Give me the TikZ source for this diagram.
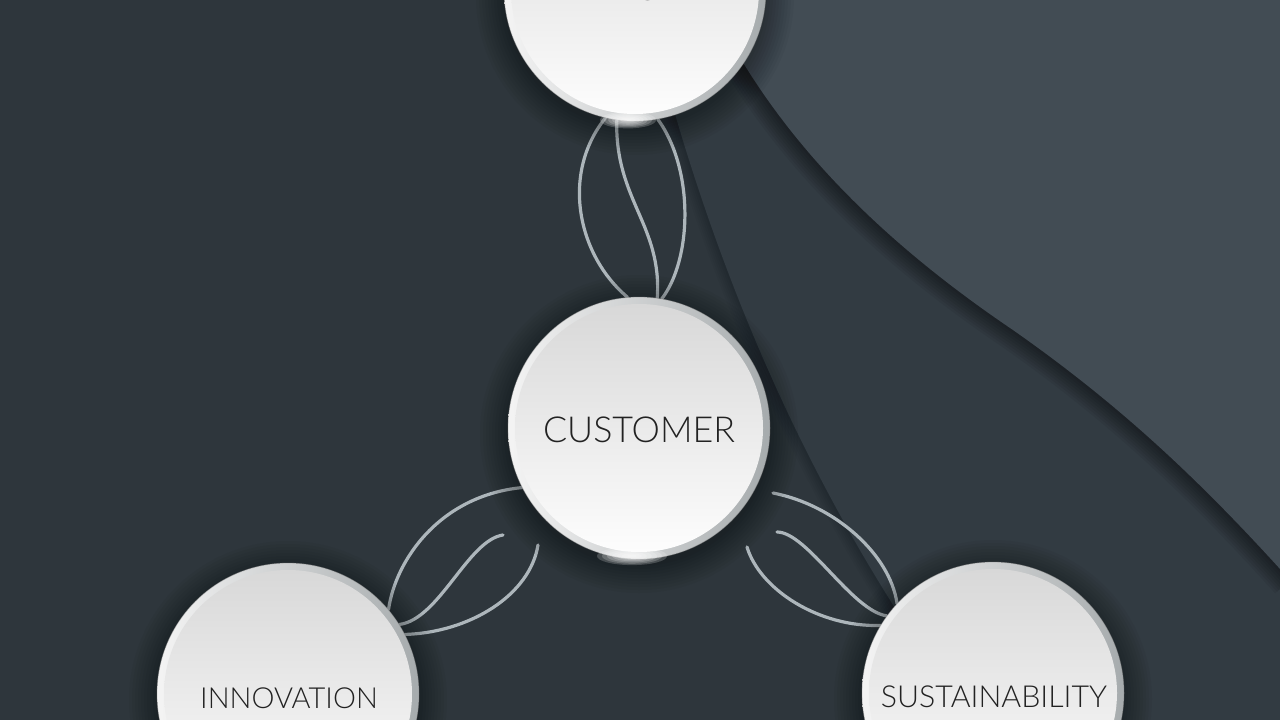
\documentclass[tikz,border=0pt]{standalone}
\usepackage{fontspec}
\newfontfamily\lbl{Lato}[UprightFont=* Light]
\definecolor{bgbase}{HTML}{2E363C}
\definecolor{bgmid}{HTML}{323B42}
\definecolor{bgtop}{HTML}{424C54}
\definecolor{wire}{HTML}{ADB6BB}
\definecolor{rimlight}{HTML}{F4F4F4}
\definecolor{rimdark}{HTML}{A6ABAD}
\definecolor{facetop}{HTML}{D8D8D8}
\definecolor{facebot}{HTML}{FDFDFD}
\definecolor{ink}{HTML}{222222}
\tikzset{
  hub/.style={circle, minimum size=262pt, inner sep=0pt},
  wirestyle/.style={draw=wire, line width=3.2pt, line cap=round},
  caption/.style={text=ink, font=\lbl\fontsize{#1}{#1}\selectfont, inner sep=0pt},
}
\newcommand\drawhub[1]{%
  \foreach \k in {1,...,10}{\fill[black, opacity=0.035] ([yshift=-6pt]#1.center) circle[radius=129pt+3pt*\k];}
  \shade[left color=rimlight, right color=rimdark] (#1.center) circle[radius=131pt];
  \draw[black!50, opacity=.4, line width=.8pt] (#1.center) circle[radius=131pt];
  \shade[top color=facetop, bottom color=facebot] (#1.center) circle[radius=124pt];
}
\newcommand\glowat[3]{%
  \foreach \k in {1,...,7}{\fill[white, opacity=.2] #1 ellipse[x radius=#2*\k, y radius=#3*\k];}
}
\def\mainedge{(700,-20) .. controls (765,130) and (880,240) .. (1013,330) .. controls (1120,405) and (1200,480) .. (1290,580)}
\def\midedge{(640,-20) .. controls (700,240) and (790,440) .. (890,600) -- (975,740)}
\begin{document}
\begin{tikzpicture}[x=1pt, y=-1pt]
\useasboundingbox (0,0) rectangle (1280,720);
\clip (0,0) rectangle (1280,720);
% background sheets
\fill[bgbase] (0,0) rectangle (1280,720);
\foreach \k in {1,...,6}{\draw[black, opacity=0.03, line width=4pt*\k] \midedge;}
\fill[bgmid] \midedge -- (1290,740) -- (1290,-20) -- cycle;
\foreach \k in {1,...,8}{\draw[black, opacity=0.06, line width=5pt*\k] \mainedge;}
\fill[bgtop] \mainedge -- (1290,-20) -- cycle;
% hubs (positions)
\node[hub] (emp) at (635,-10) {};
\node[hub] (cust) at (639,428) {};
\node[hub] (inno) at (288,694) {};
\node[hub] (sust) at (993,693) {};
% connectors top - customer
\draw[wirestyle] (emp.257) .. controls +(-45,56) and +(-50,-42) .. (cust.95);
\draw[wirestyle] (emp.262) .. controls +(-2,80) and +(5,-73) .. (cust.82);
\draw[wirestyle] (emp.280) .. controls +(37,51) and +(30,-39) .. (cust.80);
% connectors customer - innovation
\draw[wirestyle] (cust.207) .. controls +(-82,8) and +(7,-50) .. (inno.40);
\draw[wirestyle] ([shift={(-136,107)}]cust.center) .. controls +(-35,5) and +(40,-5) .. (inno.32);
\draw[wirestyle] ([shift={(-101,117)}]cust.center) .. controls +(-8,50) and +(65,-2) .. (inno.27);
% connectors customer - sustainability
\draw[wirestyle] ([shift={(134,65)}]cust.center) .. controls +(62,12) and +(-7,-49) .. (sust.137);
\draw[wirestyle] ([shift={(138,104)}]cust.center) .. controls +(30,0) and +(-35,-5) .. (sust.144);
\draw[wirestyle] ([shift={(108,119)}]cust.center) .. controls +(13,43) and +(-61,2) .. (sust.149);
% hub graphics
\drawhub{emp}
\drawhub{inno}
\drawhub{sust}
\drawhub{cust}
\glowat{(628,120)}{4pt}{1.2pt}
\glowat{(632,556)}{5pt}{1.3pt}
% captions
\node[caption=31, anchor=base] (emptext) at (635,0.6) {EMPLOYEE};
\node[caption=35.8] (custtext) at ([yshift=-2pt]cust.center) {CUSTOMER};
\node[caption=29] (innotext) at ([shift={(1,4)}]inno.center) {INNOVATION};
\node[caption=30.3] (susttext) at ([shift={(1,4)}]sust.center) {SUSTAINABILITY};
\end{tikzpicture}
\end{document}
